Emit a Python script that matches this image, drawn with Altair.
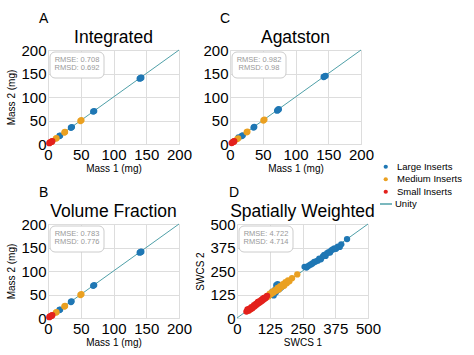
import altair as alt
import pandas as pd

FONT = "Liberation Sans"
BLUE, ORANGE, RED = "#1f77b4", "#eaa021", "#e3211c"
UNITY = "#4fa0a8"

groups = ["Large Inserts", "Medium Inserts", "Small Inserts"]

# ---- Panel A: Integrated ----
a_large_x = [17.5, 18.5, 35.0, 36.5, 69.0, 70.5, 140.0, 141.5, 142.5]
a_large_y = [17.0, 18.0, 34.5, 36.0, 69.0, 70.0, 139.0, 140.5, 141.0]
a_med_x = [5.5, 12.0, 13.0, 25.0, 26.0, 49.5, 51.0]
a_med_y = [5.0, 11.5, 12.5, 24.5, 25.5, 49.0, 50.5]
a_small_x = [2.0, 3.0, 4.5, 5.5, 6.5]
a_small_y = [1.8, 3.2, 4.0, 5.0, 6.0]

# ---- Panel C: Agatston ----
c_large_x = [13.0, 18.0, 19.5, 36.0, 37.0, 72.0, 73.5, 74.5, 143.0, 144.5, 146.0]
c_large_y = [14.0, 17.0, 18.5, 35.0, 36.5, 71.0, 73.0, 74.0, 142.5, 144.0, 145.0]
c_med_x = [6.0, 11.0, 12.5, 25.5, 26.5, 51.0, 52.5]
c_med_y = [5.5, 10.5, 12.0, 25.0, 26.0, 50.0, 52.0]
c_small_x = [2.5, 3.5, 4.5, 5.5, 6.5]
c_small_y = [2.0, 3.0, 4.5, 5.0, 6.0]

# ---- Panel B: Volume Fraction ----
b_large_x = [17.5, 18.5, 35.0, 36.0, 69.0, 70.5, 140.0, 141.5, 142.5]
b_large_y = [17.0, 18.0, 34.0, 35.5, 68.5, 70.0, 139.0, 140.5, 141.0]
b_med_x = [5.5, 12.0, 13.0, 25.0, 26.0, 49.5, 51.0]
b_med_y = [5.0, 11.5, 12.5, 24.5, 25.5, 49.0, 50.5]
b_small_x = [2.0, 3.0, 4.5, 5.5, 6.5]
b_small_y = [1.8, 3.2, 4.0, 5.0, 6.0]

# ---- Panel D: Spatially Weighted (SWCS) ----
d_large_x = [130, 135, 140, 145, 148, 150, 152, 155, 158, 160, 165, 170, 175, 140, 155,
             258, 265, 270, 276, 282, 288, 295, 300, 308, 314, 320, 328, 333, 338, 344,
             350, 355, 360, 366, 372, 378, 385, 392, 398, 420]
d_large_y = [128, 140, 132, 150, 135, 175, 168, 160, 150, 170, 158, 165, 172, 120, 180,
             272, 268, 275, 280, 285, 290, 298, 300, 305, 315, 312, 328, 335, 330, 345,
             350, 348, 360, 365, 370, 368, 380, 378, 392, 420]
d_med_x = [45, 55, 65, 75, 85, 95, 105, 115, 120, 125, 130, 135, 140, 145, 150,
           155, 160, 165, 170, 175, 180, 185, 190, 195, 200, 210, 230]
d_med_y = [40, 50, 62, 76, 82, 98, 103, 117, 114, 130, 126, 140, 135, 148, 145,
           160, 152, 170, 165, 180, 172, 190, 185, 200, 195, 212, 232]
d_small_x = [36, 40, 42, 45, 48, 52, 55, 58, 60, 62, 65, 68, 72, 75, 78,
             80, 82, 85, 88, 92, 95, 98, 100, 102, 105, 110, 115]
d_small_y = [34, 46, 44, 40, 50, 47, 58, 52, 55, 60, 68, 63, 75, 70, 80,
             85, 78, 88, 84, 95, 90, 100, 104, 98, 108, 106, 118]

rmse = [0.708, 0.982, 0.783, 4.722]
rmsd = [0.692, 0.98, 0.776, 4.714]

W, H = 131, 94


def frame(lx, ly, mx, my, sx, sy):
    rows = []
    for g, xs, ys in zip(groups, [lx, mx, sx], [ly, my, sy]):
        for x, y in zip(xs, ys):
            rows.append({"x": x, "y": y, "group": g})
    return pd.DataFrame(rows)


def panel(letter, title, df, vmax, ticks, xtitle, ytitle, e, d, lx):
    xs = alt.Scale(domain=[0, vmax], nice=False)
    ys = alt.Scale(domain=[0, vmax], nice=False)
    xax = alt.Axis(values=ticks, title=xtitle, grid=True, ticks=False, domain=False,
                   labelFontSize=15, labelPadding=3, titleFontSize=10,
                   titleFontWeight="normal", titlePadding=1, labelFlush=False)
    yax = alt.Axis(values=ticks, title=ytitle, grid=True,
                   ticks=False, domain=False, labelFontSize=15, labelPadding=2,
                   titleFontSize=10, titleFontWeight="normal", titlePadding=4,
                   labelFlush=False)
    unity = pd.DataFrame({"v": [0, vmax], "label": ["Unity", "Unity"]})
    line = alt.Chart(unity).mark_line(strokeWidth=1).encode(
        x=alt.X("v:Q", scale=xs, axis=xax),
        y=alt.Y("v:Q", scale=ys, axis=yax),
        stroke=alt.Stroke("label:N",
                          scale=alt.Scale(domain=["Unity"], range=[UNITY]),
                          legend=alt.Legend(title=None, orient="none", legendX=331,
                                            legendY=147, labelFontSize=9.5,
                                            symbolSize=144, symbolStrokeWidth=1.5,
                                            labelOffset=2, padding=0)),
    )
    pts = alt.Chart(df).mark_circle(size=40, opacity=1).encode(
        x=alt.X("x:Q", scale=xs, axis=xax),
        y=alt.Y("y:Q", scale=ys, axis=yax),
        color=alt.Color("group:N",
                        scale=alt.Scale(domain=groups, range=[BLUE, ORANGE, RED]),
                        legend=alt.Legend(title=None, orient="none", legendX=333,
                                          legendY=112, labelFontSize=9.5,
                                          symbolSize=18, rowPadding=1.5,
                                          labelOffset=6.5, padding=0)),
    )
    stat = pd.DataFrame({"l1": [f"RMSE: {e}"], "l2": [f"RMSD: {d}"],
                         "letter": [letter], "title": [title]})
    box = alt.Chart(stat).mark_rect(fill="white", stroke="#cccccc", strokeWidth=1,
                                    cornerRadius=5).encode(
        x=alt.value(2), x2=alt.value(56), y=alt.value(2), y2=alt.value(28))
    t1 = alt.Chart(stat).mark_text(font=FONT, fontSize=7.5, color="#999999").encode(
        x=alt.value(29), y=alt.value(10), text="l1:N")
    t2 = alt.Chart(stat).mark_text(font=FONT, fontSize=7.5, color="#999999").encode(
        x=alt.value(29), y=alt.value(18), text="l2:N")
    lt = alt.Chart(stat).mark_text(font=FONT, fontSize=14, align="left",
                                   baseline="alphabetic", color="black").encode(
        x=alt.value(lx), y=alt.value(-27), text="letter:N")
    tt = alt.Chart(stat).mark_text(font=FONT, fontSize=17.5, align="center",
                                   baseline="alphabetic", color="black").encode(
        x=alt.value(W / 2), y=alt.value(-7), text="title:N")
    return alt.layer(line, pts, box, t1, t2, lt, tt).properties(width=W, height=H)


A = panel("A", "Integrated", frame(a_large_x, a_large_y, a_med_x, a_med_y, a_small_x, a_small_y),
          200, [0, 50, 100, 150, 200], "Mass 1 (mg)", "Mass 2 (mg)", rmse[0], rmsd[0], -9)
C = panel("C", "Agatston", frame(c_large_x, c_large_y, c_med_x, c_med_y, c_small_x, c_small_y),
          200, [0, 50, 100, 150, 200], "Mass 1 (mg)", None, rmse[1], rmsd[1], -10)
B = panel("B", "Volume Fraction", frame(b_large_x, b_large_y, b_med_x, b_med_y, b_small_x, b_small_y),
          200, [0, 50, 100, 150, 200], "Mass 1 (mg)", "Mass 2 (mg)", rmse[2], rmsd[2], -9)
D = panel("D", "Spatially Weighted", frame(d_large_x, d_large_y, d_med_x, d_med_y, d_small_x, d_small_y),
          500, [0, 125, 250, 375, 500], "SWCS 1", "SWCS 2", rmse[3], rmsd[3], -8)

row1 = alt.hconcat(A, C, spacing=9)
row2 = alt.hconcat(B, D, spacing=2)
chart = alt.vconcat(row1, row2, spacing=11).resolve_scale(
    color="shared", stroke="shared").properties(
    padding={"left": 6, "top": 11, "right": 0, "bottom": 0}
).configure_view(stroke="#888888", strokeWidth=1).configure_axis(
    gridColor="#dddddd", labelFont=FONT, titleFont=FONT, labelColor="black",
    titleColor="#222222"
).configure_legend(labelFont=FONT, labelColor="#222222").configure(background="white")

chart.save("out.html", embed_options={"renderer": "svg", "actions": False})
